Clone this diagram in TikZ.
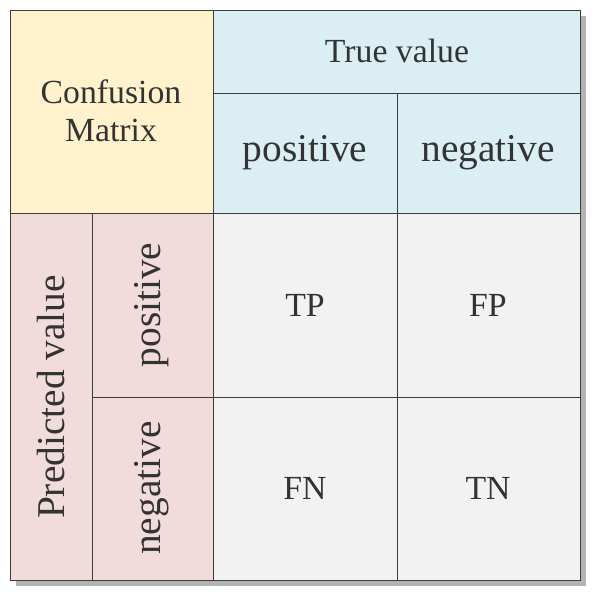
\documentclass[tikz,border=0pt]{standalone}
\usepackage{fontspec}
\setmainfont{Liberation Serif}
\usetikzlibrary{shadows}
\definecolor{headyellow}{RGB}{255, 242, 204}
\definecolor{headblue}{RGB}{218, 238, 243}
\definecolor{headpink}{RGB}{242, 220, 219}
\definecolor{cellgray}{RGB}{242, 242, 242}
\definecolor{linegray}{RGB}{60, 60, 60}
\tikzset{
  cell/.style={draw=linegray, line width=0.6pt},
  big/.style={font=\fontsize{28}{30}\selectfont, text=black!80},
  mid/.style={font=\fontsize{24}{27}\selectfont, text=black!80, align=center},
}
\begin{document}
\begin{tikzpicture}[x=0.025cm, y=-0.025cm]
\useasboundingbox (0,0) rectangle (600,600);
% outer frame with shadow
\fill[white, drop shadow={shadow xshift=1.5mm, shadow yshift=-1.5mm, opacity=0.6}] (10,10) rectangle (580,580);
% coloured areas
\fill[headyellow] (10,10) rectangle (213,213);
\fill[headblue] (213,10) rectangle (580,213);
\fill[headpink] (10,213) rectangle (213,580);
\fill[cellgray] (213,213) rectangle (580,580);
% grid lines
\draw[cell] (10,10) rectangle (580,580);
\draw[cell] (213,10) -- (213,580);
\draw[cell] (10,213) -- (580,213);
\draw[cell] (213,93) -- (580,93);
\draw[cell] (397,93) -- (397,580);
\draw[cell] (92,213) -- (92,580);
\draw[cell] (92,397) -- (580,397);
% header texts
\node[mid] (corner) at (111,111) {Confusion\\Matrix};
\node[mid] (truev) at (397,51) {True value};
\node[big] (tpos) at (305,153) {positive};
\node[big] (tneg) at (488,153) {negative};
\node[big, rotate=90] (predv) at (51,397) {Predicted value};
\node[big, rotate=90] (ppos) at (152,305) {positive};
\node[big, rotate=90] (pneg) at (152,488) {negative};
% cell texts
\node[mid] (tp) at (305,305) {TP};
\node[mid] (fp) at (488,305) {FP};
\node[mid] (fn) at (305,488) {FN};
\node[mid] (tn) at (488,488) {TN};
\end{tikzpicture}
\end{document}
